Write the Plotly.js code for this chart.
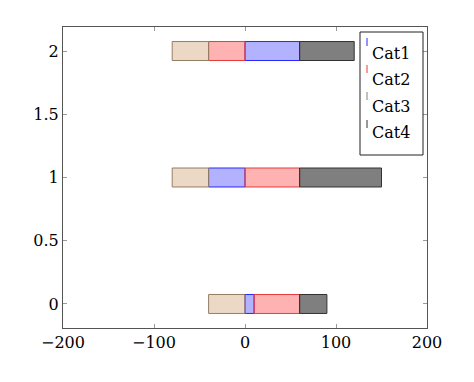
<!DOCTYPE html>
<html>
<head>
<meta charset="utf-8">
<script src="https://cdn.plot.ly/plotly-3.0.1.min.js"></script>
<style>html,body{margin:0;padding:0;background:#fff;}#chart{width:474px;height:382px;}</style>
</head>
<body>
<div id="chart"></div>
<script>
// Data
var rows = [0, 1, 2];
var categories = ["Cat1", "Cat2", "Cat3", "Cat4"];
var cat1 = [10, -40, 60];
var cat2 = [50, 60, -40];
var cat3 = [-40, -40, -40];
var cat4 = [30, 90, 60];
var xTicks = [-200, -100, 0, 100, 200];
var yTicks = [0, 0.5, 1, 1.5, 2];

var series = [cat1, cat2, cat3, cat4];
var fills = ["rgba(0,0,255,0.3)", "rgba(255,0,0,0.3)", "rgba(191,128,64,0.3)", "rgba(0,0,0,0.5)"];
var lines = ["rgb(40,40,255)", "rgb(230,60,60)", "rgb(150,125,100)", "rgb(50,50,50)"];
var FONT = "DejaVu Serif";

var traces = series.map(function (vals, i) {
  return {
    type: "bar",
    orientation: "h",
    name: categories[i],
    x: vals,
    y: rows,
    width: 0.15,
    marker: { color: fills[i], line: { color: lines[i], width: 1 } },
    showlegend: false,
    hoverinfo: "x+y+name"
  };
});

// geometry for custom pgfplots-like legend
var L = 63, R = 427, T = 27, B = 328;
function px(x) { return (x - L) / (R - L); }
function py(y) { return (B - y) / (B - T); }

var shapes = [{
  type: "rect", xref: "paper", yref: "paper",
  x0: px(360), x1: px(423), y0: py(155), y1: py(32),
  line: { color: "#222", width: 1 }, fillcolor: "white", layer: "above"
}];
var annotations = [];
var lineTops = [38, 65, 92, 120];
var textCenters = [53, 79, 106, 132];
categories.forEach(function (c, i) {
  shapes.push({
    type: "line", xref: "paper", yref: "paper",
    x0: px(367), x1: px(367), y0: py(lineTops[i]), y1: py(lineTops[i] + 8),
    line: { color: lines[i], width: 1 }, layer: "above"
  });
  annotations.push({
    xref: "paper", yref: "paper", x: px(370), y: py(textCenters[i]),
    xanchor: "left", yanchor: "middle", text: c, showarrow: false,
    font: { family: FONT, size: 16, color: "#000" }
  });
});

var axisCommon = {
  showline: true, linecolor: "#555", linewidth: 1, mirror: "ticks",
  ticks: "inside", ticklen: 4, tickcolor: "#999", tickwidth: 1,
  showgrid: false, zeroline: false,
  tickfont: { family: FONT, size: 16, color: "#000" }
};

var layout = {
  width: 474, height: 382,
  margin: { l: L, r: 474 - R, t: T, b: 382 - B, pad: 0 },
  paper_bgcolor: "white", plot_bgcolor: "white",
  font: { family: FONT },
  barmode: "relative",
  showlegend: false,
  xaxis: Object.assign({}, axisCommon, {
    range: [-200, 200], tickmode: "array", tickvals: xTicks,
    ticktext: xTicks.map(function (v) { return v < 0 ? "\u2212" + Math.abs(v) : String(v); })
  }),
  yaxis: Object.assign({}, axisCommon, {
    range: [-0.19, 2.19], tickmode: "array", tickvals: yTicks,
    ticktext: yTicks.map(String)
  }),
  shapes: shapes,
  annotations: annotations
};

Plotly.newPlot("chart", traces, layout, { displayModeBar: false, staticPlot: true });
</script>
</body>
</html>
